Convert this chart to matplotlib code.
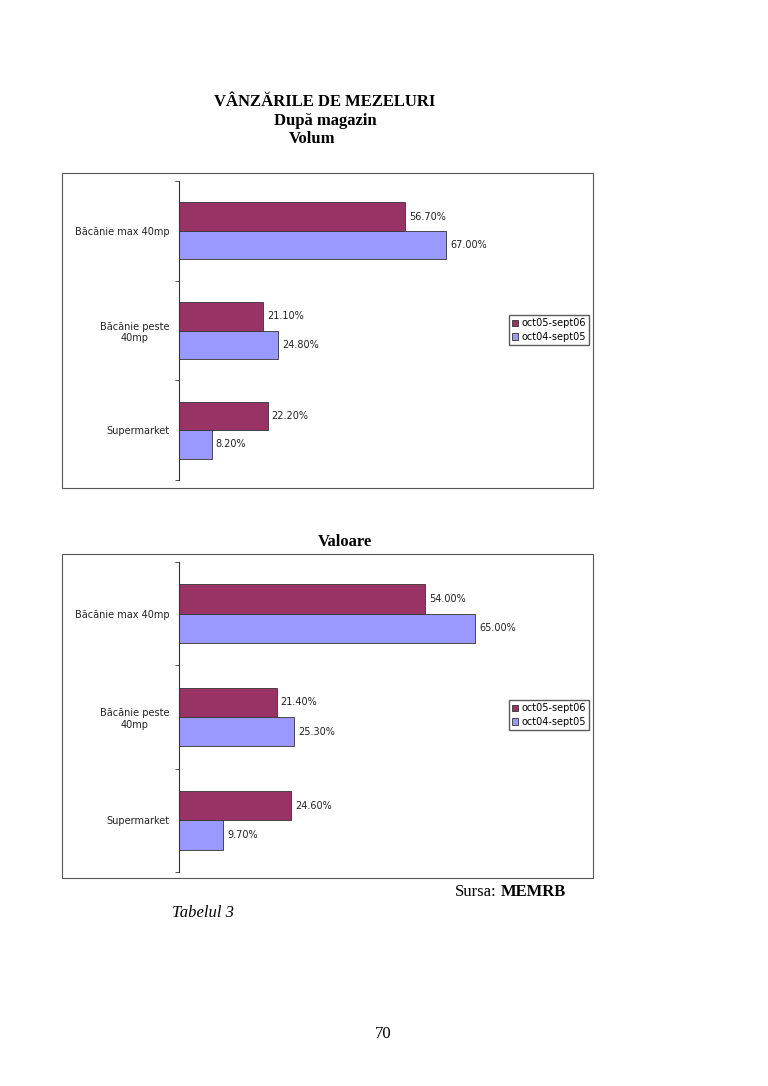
import matplotlib
matplotlib.use("Agg")
import matplotlib.pyplot as plt
from matplotlib.patches import Rectangle

# date din grafic
categorii = ["Băcănie max 40mp", "Băcănie peste\n40mp", "Supermarket"]
serii = ["oct05-sept06", "oct04-sept05"]
volum_0506 = [56.7, 21.1, 22.2]
volum_0405 = [67.0, 24.8, 8.2]
valoare_0506 = [54.0, 21.4, 24.6]
valoare_0405 = [65.0, 25.3, 9.7]

culori = ["#993366", "#9999FF"]
W, H = 768, 1086
sans = "DejaVu Sans"

fig = plt.figure(figsize=(W / 100, H / 100), dpi=100)
fig.patch.set_facecolor("white")


def px(x0, y0, x1, y1):
    # pixeli -> coordonate figura
    return [x0 / W, 1 - y1 / H, (x1 - x0) / W, (y1 - y0) / H]


def grafic(cadru, ax_px, xmax, v1, v2, leg_y):
    x0, y0, x1, y1 = cadru
    fig.add_artist(Rectangle((x0 / W, 1 - y1 / H), (x1 - x0) / W, (y1 - y0) / H,
                             transform=fig.transFigure, fill=False,
                             edgecolor="#555555", linewidth=0.8))
    ax = fig.add_axes(px(*ax_px))
    h = 0.285
    y = range(len(categorii))
    b1 = ax.barh([i - h / 2 for i in y], v1, height=h, color=culori[0],
                 edgecolor="#333333", linewidth=0.6, label=serii[0])
    b2 = ax.barh([i + h / 2 for i in y], v2, height=h, color=culori[1],
                 edgecolor="#333333", linewidth=0.6, label=serii[1])
    for bars, vals in ((b1, v1), (b2, v2)):
        for bar, v in zip(bars, vals):
            ax.annotate(f"{v:.2f}%", (v, bar.get_y() + bar.get_height() / 2),
                        xytext=(3, 0), textcoords="offset points",
                        va="center", ha="left", fontsize=7,
                        family=sans, color="#222222")
    ax.set_xlim(0, xmax)
    ax.set_ylim(2.5, -0.5)
    ax.set_yticks(list(y))
    ax.set_yticklabels(categorii, fontsize=7, family=sans,
                       color="#222222", ha="right")
    ax.tick_params(axis="y", which="major", length=0, pad=7)
    ax.set_yticks([-0.5, 0.5, 1.5, 2.5], minor=True)
    ax.tick_params(axis="y", which="minor", length=3, color="#333333")
    for lbl in ax.get_yticklabels():
        lbl.set_multialignment("center")
    ax.set_xticks([])
    for s in ("top", "right", "bottom"):
        ax.spines[s].set_visible(False)
    ax.spines["left"].set_color("#333333")
    ax.spines["left"].set_linewidth(0.8)
    ax.patch.set_alpha(0)
    fig.legend(handles=[b1, b2], labels=serii, loc="center",
               bbox_to_anchor=(549 / W, 1 - leg_y / H),
               prop={"family": sans, "size": 7},
               frameon=True, fancybox=False, edgecolor="#333333",
               handlelength=0.6, handleheight=0.6, handletextpad=0.3,
               borderpad=0.3, labelspacing=0.4, borderaxespad=0)
    return ax


grafic((62, 173, 593, 488), (179, 181, 498, 480), 80, volum_0506, volum_0405, 330)
grafic((62, 554, 593, 878), (179, 562, 498, 872), 70, valoare_0506, valoare_0405, 715)

serif = "Liberation Serif"
fig.text(325 / W, 1 - 102 / H, "VÂNZĂRILE DE MEZELURI", ha="center", va="center",
         family=serif, fontsize=12, fontweight="bold")
fig.text(325 / W, 1 - 121 / H, "După magazin", ha="center", va="center",
         family=serif, fontsize=12, fontweight="bold")
fig.text(312 / W, 1 - 139 / H, "Volum", ha="center", va="center",
         family=serif, fontsize=12, fontweight="bold")
fig.text(345 / W, 1 - 542 / H, "Valoare", ha="center", va="center",
         family=serif, fontsize=12, fontweight="bold")
fig.text(497 / W, 1 - 892 / H, "Sursa:", ha="right", va="center",
         family=serif, fontsize=12)
fig.text(566 / W, 1 - 892 / H, "MEMRB", ha="right", va="center",
         family=serif, fontsize=12, fontweight="bold")
fig.text(172 / W, 1 - 913 / H, "Tabelul 3", ha="left", va="center",
         family=serif, fontsize=12, style="italic")
fig.text(383 / W, 1 - 1034 / H, "70", ha="center", va="center",
         family=serif, fontsize=12)

plt.savefig("out.png", dpi=100)
